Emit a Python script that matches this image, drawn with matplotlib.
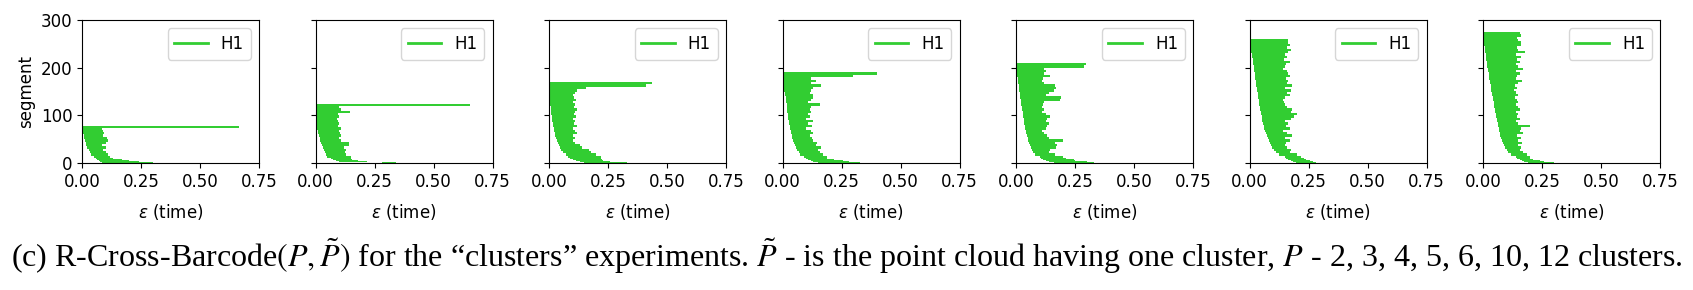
import numpy as np
import matplotlib
matplotlib.use("Agg")
import matplotlib.pyplot as plt
from matplotlib.lines import Line2D

# barcode blocks: bottom = one value per segment 0..9,
# body = one value per 5 segments starting at segment 10
clusters = [2, 3, 4, 5, 6, 10, 12]

bottom_death = [
    [0.34, 0.30, 0.25, 0.24, 0.22, 0.20, 0.19, 0.17, 0.15, 0.13],
    [0.25, 0.34, 0.245, 0.22, 0.20, 0.18, 0.16, 0.155, 0.15, 0.15],
    [0.33, 0.33, 0.30, 0.26, 0.24, 0.23, 0.23, 0.225, 0.22, 0.22],
    [0.335, 0.33, 0.30, 0.28, 0.26, 0.255, 0.25, 0.22, 0.20, 0.19],
    [0.335, 0.33, 0.32, 0.30, 0.28, 0.25, 0.25, 0.245, 0.23, 0.21],
    [0.28, 0.28, 0.275, 0.27, 0.26, 0.255, 0.25, 0.24, 0.24, 0.23],
    [0.31, 0.30, 0.28, 0.26, 0.25, 0.24, 0.225, 0.21, 0.20, 0.20],
]
bottom_birth = [
    [0.09, 0.085, 0.08, 0.077, 0.075, 0.07, 0.068, 0.065, 0.06, 0.058],
    [0.14, 0.28, 0.12, 0.10, 0.09, 0.085, 0.08, 0.075, 0.07, 0.065],
    [0.16, 0.15, 0.14, 0.13, 0.12, 0.115, 0.11, 0.10, 0.095, 0.09],
    [0.16, 0.15, 0.14, 0.13, 0.125, 0.12, 0.115, 0.11, 0.105, 0.10],
    [0.17, 0.16, 0.15, 0.14, 0.13, 0.125, 0.12, 0.115, 0.11, 0.105],
    [0.20, 0.195, 0.19, 0.185, 0.18, 0.175, 0.17, 0.165, 0.16, 0.155],
    [0.20, 0.19, 0.18, 0.175, 0.17, 0.165, 0.16, 0.155, 0.15, 0.145],
]

body_death = [
    [0.12, 0.11, 0.10, 0.09, 0.10, 0.085, 0.10, 0.11, 0.105, 0.09, 0.095, 0.09, 0.085],
    [0.15, 0.13, 0.125, 0.13, 0.12, 0.14, 0.14, 0.11, 0.10, 0.11, 0.105, 0.10, 0.11,
     0.095, 0.10, 0.095, 0.09, 0.10, 0.095, 0.145, 0.11, 0.10],
    [0.22, 0.20, 0.18, 0.17, 0.14, 0.13, 0.11, 0.10, 0.11, 0.10, 0.12, 0.11, 0.10,
     0.12, 0.105, 0.11, 0.10, 0.115, 0.105, 0.11, 0.12, 0.105, 0.11, 0.10, 0.115,
     0.105, 0.10, 0.11, 0.12, 0.155, 0.41, 0.435],
    [0.19, 0.17, 0.16, 0.15, 0.165, 0.14, 0.145, 0.13, 0.125, 0.115, 0.13, 0.12,
     0.10, 0.125, 0.11, 0.13, 0.10, 0.115, 0.11, 0.12, 0.115, 0.12, 0.158, 0.11,
     0.12, 0.13, 0.13, 0.115, 0.12, 0.13, 0.165, 0.12, 0.14, 0.12, 0.30, 0.40],
    [0.20, 0.165, 0.14, 0.145, 0.17, 0.175, 0.165, 0.20, 0.14, 0.13, 0.12, 0.11,
     0.125, 0.13, 0.14, 0.125, 0.13, 0.145, 0.125, 0.11, 0.12, 0.11, 0.115, 0.12,
     0.185, 0.19, 0.125, 0.14, 0.16, 0.17, 0.165, 0.12, 0.11, 0.115, 0.145, 0.12,
     0.125, 0.12, 0.29, 0.295],
    [0.22, 0.20, 0.17, 0.175, 0.16, 0.15, 0.155, 0.17, 0.15, 0.18, 0.16, 0.14,
     0.17, 0.155, 0.165, 0.15, 0.175, 0.19, 0.20, 0.175, 0.18, 0.16, 0.15, 0.145,
     0.14, 0.15, 0.17, 0.16, 0.175, 0.15, 0.18, 0.16, 0.165, 0.155, 0.17, 0.165,
     0.16, 0.14, 0.15, 0.155, 0.17, 0.145, 0.16, 0.15, 0.165, 0.175, 0.16, 0.17,
     0.165, 0.165],
    [0.20, 0.185, 0.17, 0.155, 0.16, 0.15, 0.165, 0.15, 0.16, 0.145, 0.17, 0.155,
     0.16, 0.198, 0.15, 0.14, 0.155, 0.145, 0.15, 0.14, 0.155, 0.15, 0.14, 0.15,
     0.145, 0.135, 0.15, 0.14, 0.13, 0.145, 0.135, 0.15, 0.165, 0.14, 0.145, 0.155,
     0.14, 0.17, 0.15, 0.14, 0.155, 0.145, 0.16, 0.14, 0.177, 0.15, 0.145, 0.16,
     0.163, 0.15, 0.145, 0.16, 0.155],
]
body_birth = [
    [0.05, 0.04, 0.033, 0.028, 0.022, 0.018, 0.015, 0.012, 0.009, 0.007, 0.005, 0.003, 0.001],
    [0.05, 0.045, 0.04, 0.035, 0.03, 0.027, 0.024, 0.021, 0.018, 0.015, 0.012, 0.01,
     0.008, 0.007, 0.006, 0.005, 0.004, 0.003, 0.002, 0.001, 0.0, 0.0],
    [0.08, 0.07, 0.06, 0.052, 0.046, 0.041, 0.037, 0.033, 0.03, 0.027, 0.024, 0.022,
     0.02, 0.018, 0.016, 0.014, 0.012, 0.011, 0.01, 0.009, 0.008, 0.007, 0.006,
     0.005, 0.004, 0.003, 0.002, 0.002, 0.001, 0.001, 0.0, 0.0],
    [0.09, 0.075, 0.068, 0.062, 0.056, 0.052, 0.048, 0.045, 0.042, 0.039, 0.036,
     0.034, 0.032, 0.03, 0.028, 0.026, 0.025, 0.024, 0.022, 0.021, 0.02, 0.018,
     0.017, 0.016, 0.014, 0.013, 0.011, 0.01, 0.008, 0.007, 0.005, 0.004, 0.003,
     0.002, 0.001, 0.0],
    [0.10, 0.082, 0.074, 0.067, 0.062, 0.058, 0.055, 0.052, 0.049, 0.046, 0.043,
     0.041, 0.039, 0.037, 0.035, 0.034, 0.032, 0.031, 0.029, 0.028, 0.026, 0.025,
     0.023, 0.022, 0.02, 0.019, 0.017, 0.016, 0.014, 0.013, 0.011, 0.01, 0.008,
     0.007, 0.005, 0.004, 0.003, 0.002, 0.001, 0.0],
    [0.15, 0.125, 0.112, 0.103, 0.095, 0.09, 0.085, 0.081, 0.077, 0.073, 0.069,
     0.066, 0.063, 0.06, 0.058, 0.055, 0.053, 0.051, 0.049, 0.047, 0.045, 0.043,
     0.042, 0.04, 0.039, 0.037, 0.035, 0.034, 0.032, 0.031, 0.029, 0.028, 0.026,
     0.025, 0.023, 0.022, 0.02, 0.019, 0.018, 0.016, 0.014, 0.013, 0.011, 0.01,
     0.008, 0.007, 0.005, 0.004, 0.002, 0.0],
    [0.14, 0.12, 0.108, 0.10, 0.095, 0.09, 0.086, 0.082, 0.078, 0.074, 0.071,
     0.068, 0.066, 0.064, 0.062, 0.06, 0.058, 0.056, 0.054, 0.052, 0.05, 0.048,
     0.047, 0.045, 0.043, 0.041, 0.039, 0.038, 0.036, 0.034, 0.032, 0.03, 0.029,
     0.027, 0.025, 0.024, 0.022, 0.02, 0.019, 0.017, 0.016, 0.014, 0.013, 0.011,
     0.01, 0.008, 0.007, 0.006, 0.005, 0.004, 0.003, 0.001, 0.0],
]

# single long bar on top (only 2 and 3 clusters)
top_seg = [74, 119, None, None, None, None, None]
top_death = [0.667, 0.653, None, None, None, None, None]

color = "limegreen"
plt.rcParams["mathtext.fontset"] = "dejavusans"

fig = plt.figure(figsize=(16.93, 2.90), dpi=100)
W, H = 1693, 290

for i in range(len(clusters)):
    ax = fig.add_axes([(82 + i * 233.5) / W, (290 - 163) / H, 177 / W, 143 / H])
    bd = np.array(bottom_death[i]); bb = np.array(bottom_birth[i])
    ax.barh(np.arange(len(bd)), bd - bb, left=bb, height=1, align="edge",
            color=color, linewidth=0)
    yd = np.array(body_death[i]); yb = np.array(body_birth[i])
    ax.barh(10 + 5 * np.arange(len(yd)), yd - yb, left=yb, height=5, align="edge",
            color=color, linewidth=0)
    if top_seg[i] is not None:
        ax.barh(top_seg[i], top_death[i], height=4.5, align="edge", color=color, linewidth=0)
    ax.set_xlim(0, 0.75)
    ax.set_ylim(0, 300)
    ax.set_xticks([0, 0.25, 0.5, 0.75])
    ax.set_yticks([0, 100, 200, 300])
    ax.tick_params(labelsize=12)
    if i == 0:
        ax.set_ylabel("segment", fontsize=12)
    else:
        ax.set_yticklabels([])
    ax.set_xlabel(r"$\varepsilon$ (time)", fontsize=12, labelpad=8)
    ax.legend(handles=[Line2D([], [], color=color, lw=2)], labels=["H1"],
              loc="upper right", fontsize=12)

plt.rcParams["mathtext.fontset"] = "stix"
fig.text(0.5, (290 - 256) / H, r"(c) R-Cross-Barcode$(P, \tilde{P})$ for the “clusters” experiments. "
         r"$\tilde{P}$ - is the point cloud having one cluster, $P$ - 2, 3, 4, 5, 6, 10, 12 clusters.",
         ha="center", va="center", fontsize=23, family="Liberation Serif")

fig.savefig("out.png", dpi=100)
